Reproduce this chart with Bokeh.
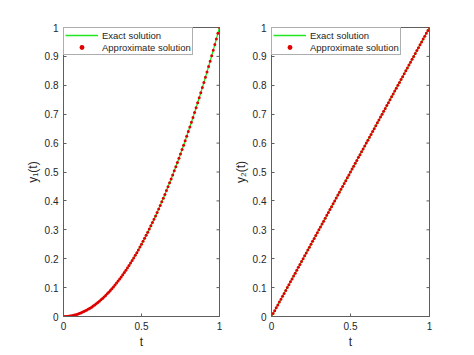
import math
from bokeh.plotting import figure
from bokeh.layouts import row
from bokeh.models import Range1d, FixedTicker, Legend, LegendItem
from bokeh.embed import file_html
from bokeh.resources import INLINE

# ---- data ----
t = [0.00, 0.01, 0.02, 0.03, 0.04, 0.05, 0.06, 0.07, 0.08, 0.09,
     0.10, 0.11, 0.12, 0.13, 0.14, 0.15, 0.16, 0.17, 0.18, 0.19,
     0.20, 0.21, 0.22, 0.23, 0.24, 0.25, 0.26, 0.27, 0.28, 0.29,
     0.30, 0.31, 0.32, 0.33, 0.34, 0.35, 0.36, 0.37, 0.38, 0.39,
     0.40, 0.41, 0.42, 0.43, 0.44, 0.45, 0.46, 0.47, 0.48, 0.49,
     0.50, 0.51, 0.52, 0.53, 0.54, 0.55, 0.56, 0.57, 0.58, 0.59,
     0.60, 0.61, 0.62, 0.63, 0.64, 0.65, 0.66, 0.67, 0.68, 0.69,
     0.70, 0.71, 0.72, 0.73, 0.74, 0.75, 0.76, 0.77, 0.78, 0.79,
     0.80, 0.81, 0.82, 0.83, 0.84, 0.85, 0.86, 0.87, 0.88, 0.89,
     0.90, 0.91, 0.92, 0.93, 0.94, 0.95, 0.96, 0.97, 0.98, 0.99, 1.00]

y1 = [0.0000, 0.0001, 0.0004, 0.0009, 0.0016, 0.0025, 0.0036, 0.0049, 0.0064, 0.0081,
      0.0100, 0.0121, 0.0144, 0.0169, 0.0196, 0.0225, 0.0256, 0.0289, 0.0324, 0.0361,
      0.0400, 0.0441, 0.0484, 0.0529, 0.0576, 0.0625, 0.0676, 0.0729, 0.0784, 0.0841,
      0.0900, 0.0961, 0.1024, 0.1089, 0.1156, 0.1225, 0.1296, 0.1369, 0.1444, 0.1521,
      0.1600, 0.1681, 0.1764, 0.1849, 0.1936, 0.2025, 0.2116, 0.2209, 0.2304, 0.2401,
      0.2500, 0.2601, 0.2704, 0.2809, 0.2916, 0.3025, 0.3136, 0.3249, 0.3364, 0.3481,
      0.3600, 0.3721, 0.3844, 0.3969, 0.4096, 0.4225, 0.4356, 0.4489, 0.4624, 0.4761,
      0.4900, 0.5041, 0.5184, 0.5329, 0.5476, 0.5625, 0.5776, 0.5929, 0.6084, 0.6241,
      0.6400, 0.6561, 0.6724, 0.6889, 0.7056, 0.7225, 0.7396, 0.7569, 0.7744, 0.7921,
      0.8100, 0.8281, 0.8464, 0.8649, 0.8836, 0.9025, 0.9216, 0.9409, 0.9604, 0.9801, 1.0000]

y2 = [0.00, 0.01, 0.02, 0.03, 0.04, 0.05, 0.06, 0.07, 0.08, 0.09,
      0.10, 0.11, 0.12, 0.13, 0.14, 0.15, 0.16, 0.17, 0.18, 0.19,
      0.20, 0.21, 0.22, 0.23, 0.24, 0.25, 0.26, 0.27, 0.28, 0.29,
      0.30, 0.31, 0.32, 0.33, 0.34, 0.35, 0.36, 0.37, 0.38, 0.39,
      0.40, 0.41, 0.42, 0.43, 0.44, 0.45, 0.46, 0.47, 0.48, 0.49,
      0.50, 0.51, 0.52, 0.53, 0.54, 0.55, 0.56, 0.57, 0.58, 0.59,
      0.60, 0.61, 0.62, 0.63, 0.64, 0.65, 0.66, 0.67, 0.68, 0.69,
      0.70, 0.71, 0.72, 0.73, 0.74, 0.75, 0.76, 0.77, 0.78, 0.79,
      0.80, 0.81, 0.82, 0.83, 0.84, 0.85, 0.86, 0.87, 0.88, 0.89,
      0.90, 0.91, 0.92, 0.93, 0.94, 0.95, 0.96, 0.97, 0.98, 0.99, 1.00]

xticks = [0, 0.5, 1]
xtick_labels = ["0", "0.5", "1"]
yticks = [0, 0.1, 0.2, 0.3, 0.4, 0.5, 0.6, 0.7, 0.8, 0.9, 1]
ytick_labels = ["0", "0.1", "0.2", "0.3", "0.4", "0.5", "0.6", "0.7", "0.8", "0.9", "1"]

legend_labels = ["Exact solution", "Approximate solution"]
x_label = "t"
y_labels = ["y\u2081(t)", "y\u2082(t)"]

FONT = "Liberation Sans"
AX = "#5e5e5e"
TXT = "#262626"
GREEN = "#22e822"
RED = "#e00000"


def style_axis(ax, ticks, labels):
    ax.ticker = FixedTicker(ticks=ticks)
    ax.major_label_overrides = {k: v for k, v in zip(ticks, labels)}
    ax.major_tick_in = 3
    ax.major_tick_out = 0
    ax.minor_tick_line_color = None
    ax.major_tick_line_color = AX
    ax.axis_line_color = AX
    ax.major_label_text_font = FONT
    ax.major_label_text_color = TXT
    ax.major_label_text_font_size = "10px"
    ax.major_label_standoff = 5
    ax.axis_label_text_font = FONT
    ax.axis_label_text_font_style = "normal"
    ax.axis_label_text_color = TXT
    ax.axis_label_text_font_size = "12px"
    ax.axis_label_standoff = 2


def panel(y, ylabel, width, bl, br):
    p = figure(width=width, height=355, x_range=Range1d(0, 1), y_range=Range1d(0, 1),
               output_backend="svg", toolbar_location=None,
               min_border_left=bl, min_border_right=br,
               min_border_top=27, min_border_bottom=39,
               background_fill_color="white", border_fill_color="white")
    p.xgrid.grid_line_color = None
    p.ygrid.grid_line_color = None
    p.outline_line_color = AX
    p.outline_line_width = 1

    style_axis(p.below[0], xticks, xtick_labels)
    p.below[0].axis_label = x_label
    style_axis(p.left[0], yticks, ytick_labels)
    p.left[0].axis_label = ylabel

    # mirrored tick marks on the top and right edges (half of each dash is clipped)
    p.scatter(xticks, [p.y_range.end] * len(xticks), marker="dash", size=6,
              angle=math.pi / 2, line_color=AX, line_width=1)
    p.scatter([p.x_range.end] * len(yticks), yticks, marker="dash", size=6,
              line_color=AX, line_width=1)

    ln = p.line(t, y, line_color=GREEN, line_width=1.3)
    dots = p.scatter(t, y, size=3.0, fill_color=RED, line_color=None)

    leg = Legend(items=[LegendItem(label=legend_labels[0], renderers=[ln]),
                        LegendItem(label=legend_labels[1], renderers=[dots])],
                 location="top_left", margin=0, padding=1, spacing=0,
                 glyph_width=33, glyph_height=12, label_height=12,
                 label_standoff=4, label_text_font=FONT,
                 label_text_font_size="9.5px", label_text_color=TXT,
                 border_line_color=AX, border_line_width=1,
                 background_fill_color="white", background_fill_alpha=1.0)
    p.add_layout(leg)
    return p


p1 = panel(y1, y_labels[0], 230, 63, 11)
p2 = panel(y2, y_labels[1], 244, 41, 45)
p = row(p1, p2)

open("out.html", "w").write(file_html(p, INLINE))
